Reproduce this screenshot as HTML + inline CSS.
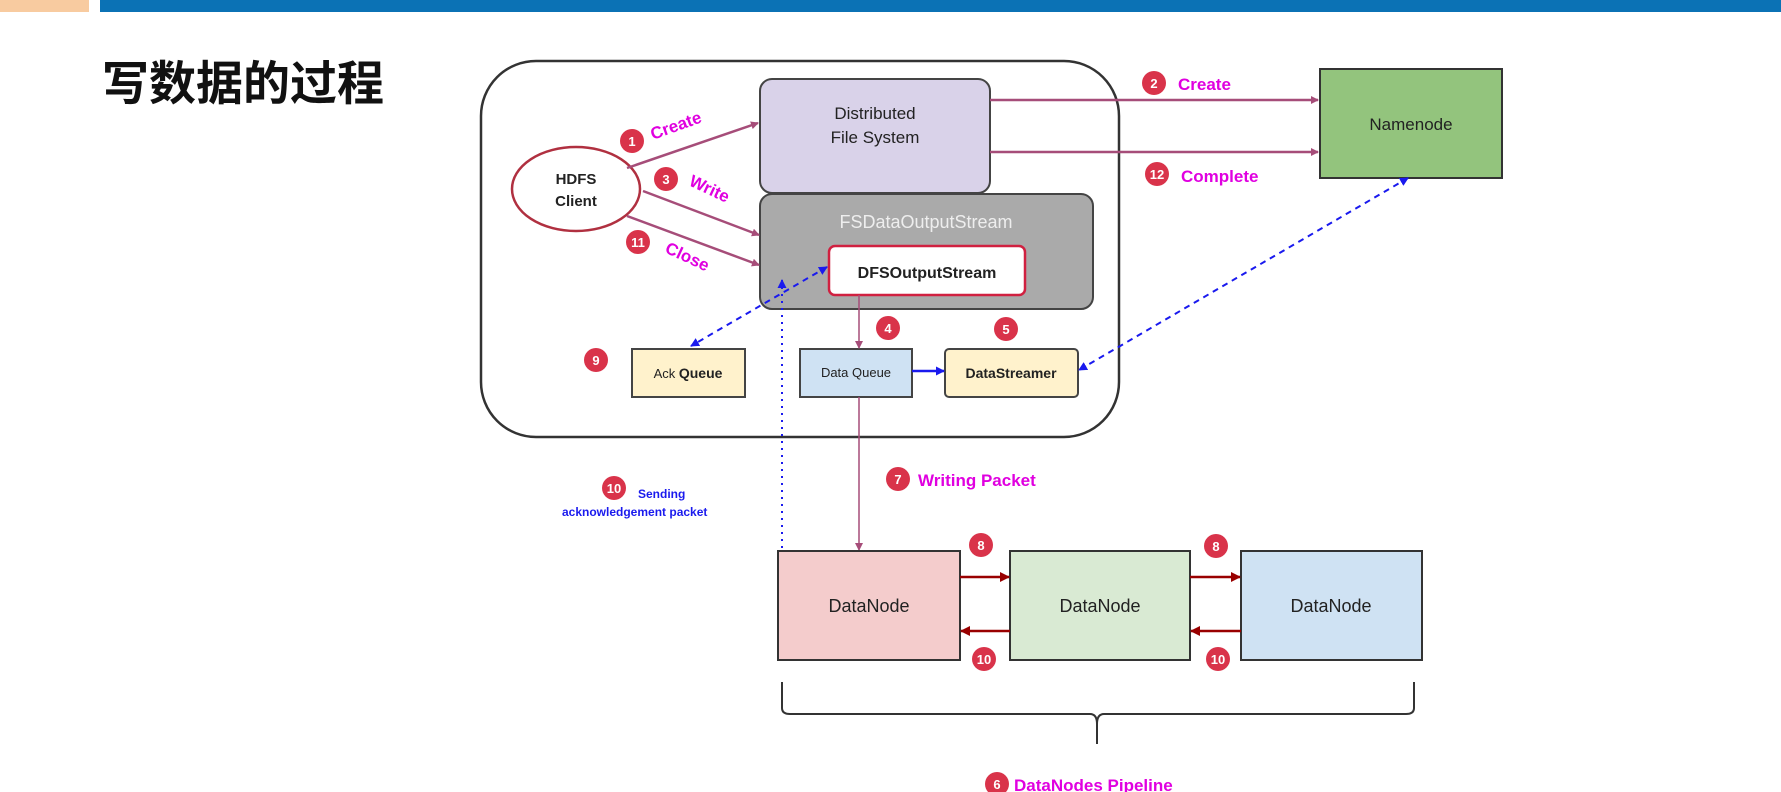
<!DOCTYPE html>
<html><head><meta charset="utf-8"><style>
html,body{margin:0;padding:0;background:#fff;}
svg{display:block;font-family:"Liberation Sans",Arial,sans-serif;}
.c{fill:#d9334a;}
.cn{fill:#fff;font-size:13px;text-anchor:middle;font-weight:bold;}
.m{fill:#e000e0;font-weight:bold;font-size:17px;}
</style></head><body>
<svg width="1781" height="792" viewBox="0 0 1781 792" xmlns="http://www.w3.org/2000/svg">
<defs>
<marker id="ap" markerWidth="8" markerHeight="8" refX="7" refY="4" orient="auto" markerUnits="userSpaceOnUse"><path d="M0,0 L8,4 L0,8z" fill="#a64d79"/></marker>
<marker id="ab" markerWidth="9" markerHeight="9" refX="8" refY="4.5" orient="auto" markerUnits="userSpaceOnUse"><path d="M0,0 L9,4.5 L0,9z" fill="#1a1aee"/></marker>
<marker id="abs" markerWidth="9" markerHeight="9" refX="1" refY="4.5" orient="auto" markerUnits="userSpaceOnUse"><path d="M9,0 L0,4.5 L9,9z" fill="#1a1aee"/></marker>
<marker id="ar" markerWidth="10" markerHeight="10" refX="9" refY="5" orient="auto" markerUnits="userSpaceOnUse"><path d="M0,0 L10,5 L0,10z" fill="#990000"/></marker>
</defs>
<rect x="0" y="0" width="89" height="12" fill="#f8cba0"/>
<rect x="100" y="0" width="1681" height="12" fill="#0b72b5"/>
<text x="102" y="100" font-family="'Liberation Sans','Noto Sans CJK SC',sans-serif" font-size="47" font-weight="bold" fill="#111">写数据的过程</text>

<rect x="481" y="61" width="638" height="376" rx="55" fill="#fff" stroke="#333" stroke-width="2.5"/>
<rect x="760" y="79" width="230" height="114" rx="12" fill="#d9d2e9" stroke="#444" stroke-width="2"/>
<text x="875" y="119" font-size="17" text-anchor="middle" fill="#222">Distributed</text>
<text x="875" y="143" font-size="17" text-anchor="middle" fill="#222">File System</text>
<rect x="1320" y="69" width="182" height="109" fill="#93c47d" stroke="#333" stroke-width="2"/>
<text x="1411" y="130" font-size="17" text-anchor="middle" fill="#222">Namenode</text>
<ellipse cx="576" cy="189" rx="64" ry="42" fill="#fff" stroke="#b03040" stroke-width="2.5"/>
<text x="576" y="184" font-size="15" font-weight="bold" text-anchor="middle" fill="#222">HDFS</text>
<text x="576" y="206" font-size="15" font-weight="bold" text-anchor="middle" fill="#222">Client</text>
<rect x="760" y="194" width="333" height="115" rx="12" fill="#aaaaaa" stroke="#444" stroke-width="2"/>
<text x="926" y="228" font-size="18" text-anchor="middle" fill="#eee">FSDataOutputStream</text>
<rect x="829" y="246" width="196" height="49" rx="6" fill="#fff" stroke="#d02040" stroke-width="2.5"/>
<text x="927" y="278" font-size="16" font-weight="bold" text-anchor="middle" fill="#222">DFSOutputStream</text>
<rect x="632" y="349" width="113" height="48" fill="#fff2cc" stroke="#444" stroke-width="2"/>
<text x="688" y="378" font-size="13" text-anchor="middle" fill="#222">Ack <tspan font-weight="bold" font-size="14">Queue</tspan></text>
<rect x="800" y="349" width="112" height="48" fill="#cfe2f3" stroke="#444" stroke-width="2"/>
<text x="856" y="377" font-size="13" text-anchor="middle" fill="#222">Data Queue</text>
<rect x="945" y="349" width="133" height="48" rx="4" fill="#fff2cc" stroke="#444" stroke-width="2"/>
<text x="1011" y="378" font-size="14" font-weight="bold" text-anchor="middle" fill="#222">DataStreamer</text>

<line x1="990" y1="100" x2="1318" y2="100" stroke="#a64d79" stroke-width="2.5" marker-end="url(#ap)"/>
<line x1="990" y1="152" x2="1318" y2="152" stroke="#a64d79" stroke-width="2.5" marker-end="url(#ap)"/>
<line x1="627" y1="168" x2="758" y2="123" stroke="#a64d79" stroke-width="2.5" marker-end="url(#ap)"/>
<line x1="643" y1="191" x2="759" y2="235" stroke="#a64d79" stroke-width="2.5" marker-end="url(#ap)"/>
<line x1="627" y1="216" x2="759" y2="265" stroke="#a64d79" stroke-width="2.5" marker-end="url(#ap)"/>
<line x1="859" y1="295" x2="859" y2="348" stroke="#a64d79" stroke-width="1.5" marker-end="url(#ap)"/>
<line x1="859" y1="397" x2="859" y2="550" stroke="#a64d79" stroke-width="1.5" marker-end="url(#ap)"/>
<line x1="827" y1="267" x2="691" y2="346" stroke="#1a1aee" stroke-width="2" stroke-dasharray="6,5" marker-start="url(#abs)" marker-end="url(#ab)"/>
<line x1="1408" y1="178" x2="1079" y2="370" stroke="#1a1aee" stroke-width="2" stroke-dasharray="6,5" marker-start="url(#abs)" marker-end="url(#ab)"/>
<line x1="912" y1="371" x2="944" y2="371" stroke="#1a1aee" stroke-width="2.5" marker-end="url(#ab)"/>
<line x1="782" y1="548" x2="782" y2="280" stroke="#1a1aee" stroke-width="2" stroke-dasharray="2,5" marker-end="url(#ab)"/>

<rect x="778" y="551" width="182" height="109" fill="#f4cccc" stroke="#333" stroke-width="2"/>
<text x="869" y="612" font-size="18" text-anchor="middle" fill="#222">DataNode</text>
<rect x="1010" y="551" width="180" height="109" fill="#d9ead3" stroke="#333" stroke-width="2"/>
<text x="1100" y="612" font-size="18" text-anchor="middle" fill="#222">DataNode</text>
<rect x="1241" y="551" width="181" height="109" fill="#cfe2f3" stroke="#333" stroke-width="2"/>
<text x="1331" y="612" font-size="18" text-anchor="middle" fill="#222">DataNode</text>
<line x1="960" y1="577" x2="1009" y2="577" stroke="#990000" stroke-width="2.5" marker-end="url(#ar)"/>
<line x1="1190" y1="577" x2="1240" y2="577" stroke="#990000" stroke-width="2.5" marker-end="url(#ar)"/>
<line x1="1010" y1="631" x2="961" y2="631" stroke="#990000" stroke-width="2.5" marker-end="url(#ar)"/>
<line x1="1241" y1="631" x2="1191" y2="631" stroke="#990000" stroke-width="2.5" marker-end="url(#ar)"/>
<path d="M782,682 L782,708 Q782,714 790,714 L1090,714 Q1097,714 1097,724 L1097,744 M1097,724 Q1097,714 1104,714 L1406,714 Q1414,714 1414,708 L1414,682" fill="none" stroke="#333" stroke-width="2"/>

<g>
<circle class="c" cx="632" cy="141" r="12"/><text class="cn" x="632" y="146">1</text>
<circle class="c" cx="1154" cy="83" r="12"/><text class="cn" x="1154" y="88">2</text>
<circle class="c" cx="1157" cy="174" r="12"/><text class="cn" x="1157" y="179">12</text>
<circle class="c" cx="666" cy="179" r="12"/><text class="cn" x="666" y="184">3</text>
<circle class="c" cx="638" cy="242" r="12"/><text class="cn" x="638" y="247">11</text>
<circle class="c" cx="596" cy="360" r="12"/><text class="cn" x="596" y="365">9</text>
<circle class="c" cx="888" cy="328" r="12"/><text class="cn" x="888" y="333">4</text>
<circle class="c" cx="1006" cy="329" r="12"/><text class="cn" x="1006" y="334">5</text>
<circle class="c" cx="981" cy="545" r="12"/><text class="cn" x="981" y="550">8</text>
<circle class="c" cx="1216" cy="546" r="12"/><text class="cn" x="1216" y="551">8</text>
<circle class="c" cx="984" cy="659" r="12"/><text class="cn" x="984" y="664">10</text>
<circle class="c" cx="1218" cy="659" r="12"/><text class="cn" x="1218" y="664">10</text>
<circle class="c" cx="898" cy="479" r="12"/><text class="cn" x="898" y="484">7</text>
<circle class="c" cx="614" cy="488" r="12"/><text class="cn" x="614" y="493">10</text>
<circle class="c" cx="997" cy="784" r="12"/><text class="cn" x="997" y="789">6</text>
</g>
<text class="m" x="653" y="140" transform="rotate(-20 653 140)">Create</text>
<text class="m" x="688" y="185" transform="rotate(25 688 185)">Write</text>
<text class="m" x="664" y="252" transform="rotate(25 664 252)">Close</text>
<text class="m" x="1178" y="90">Create</text>
<text class="m" x="1181" y="182">Complete</text>
<text class="m" x="918" y="486">Writing Packet</text>
<text class="m" x="1014" y="791">DataNodes Pipeline</text>
<text x="638" y="498" font-size="12" font-weight="bold" fill="#1a1aee">Sending</text>
<text x="562" y="516" font-size="12" font-weight="bold" fill="#1a1aee">acknowledgement  packet</text>
</svg>
</body></html>
